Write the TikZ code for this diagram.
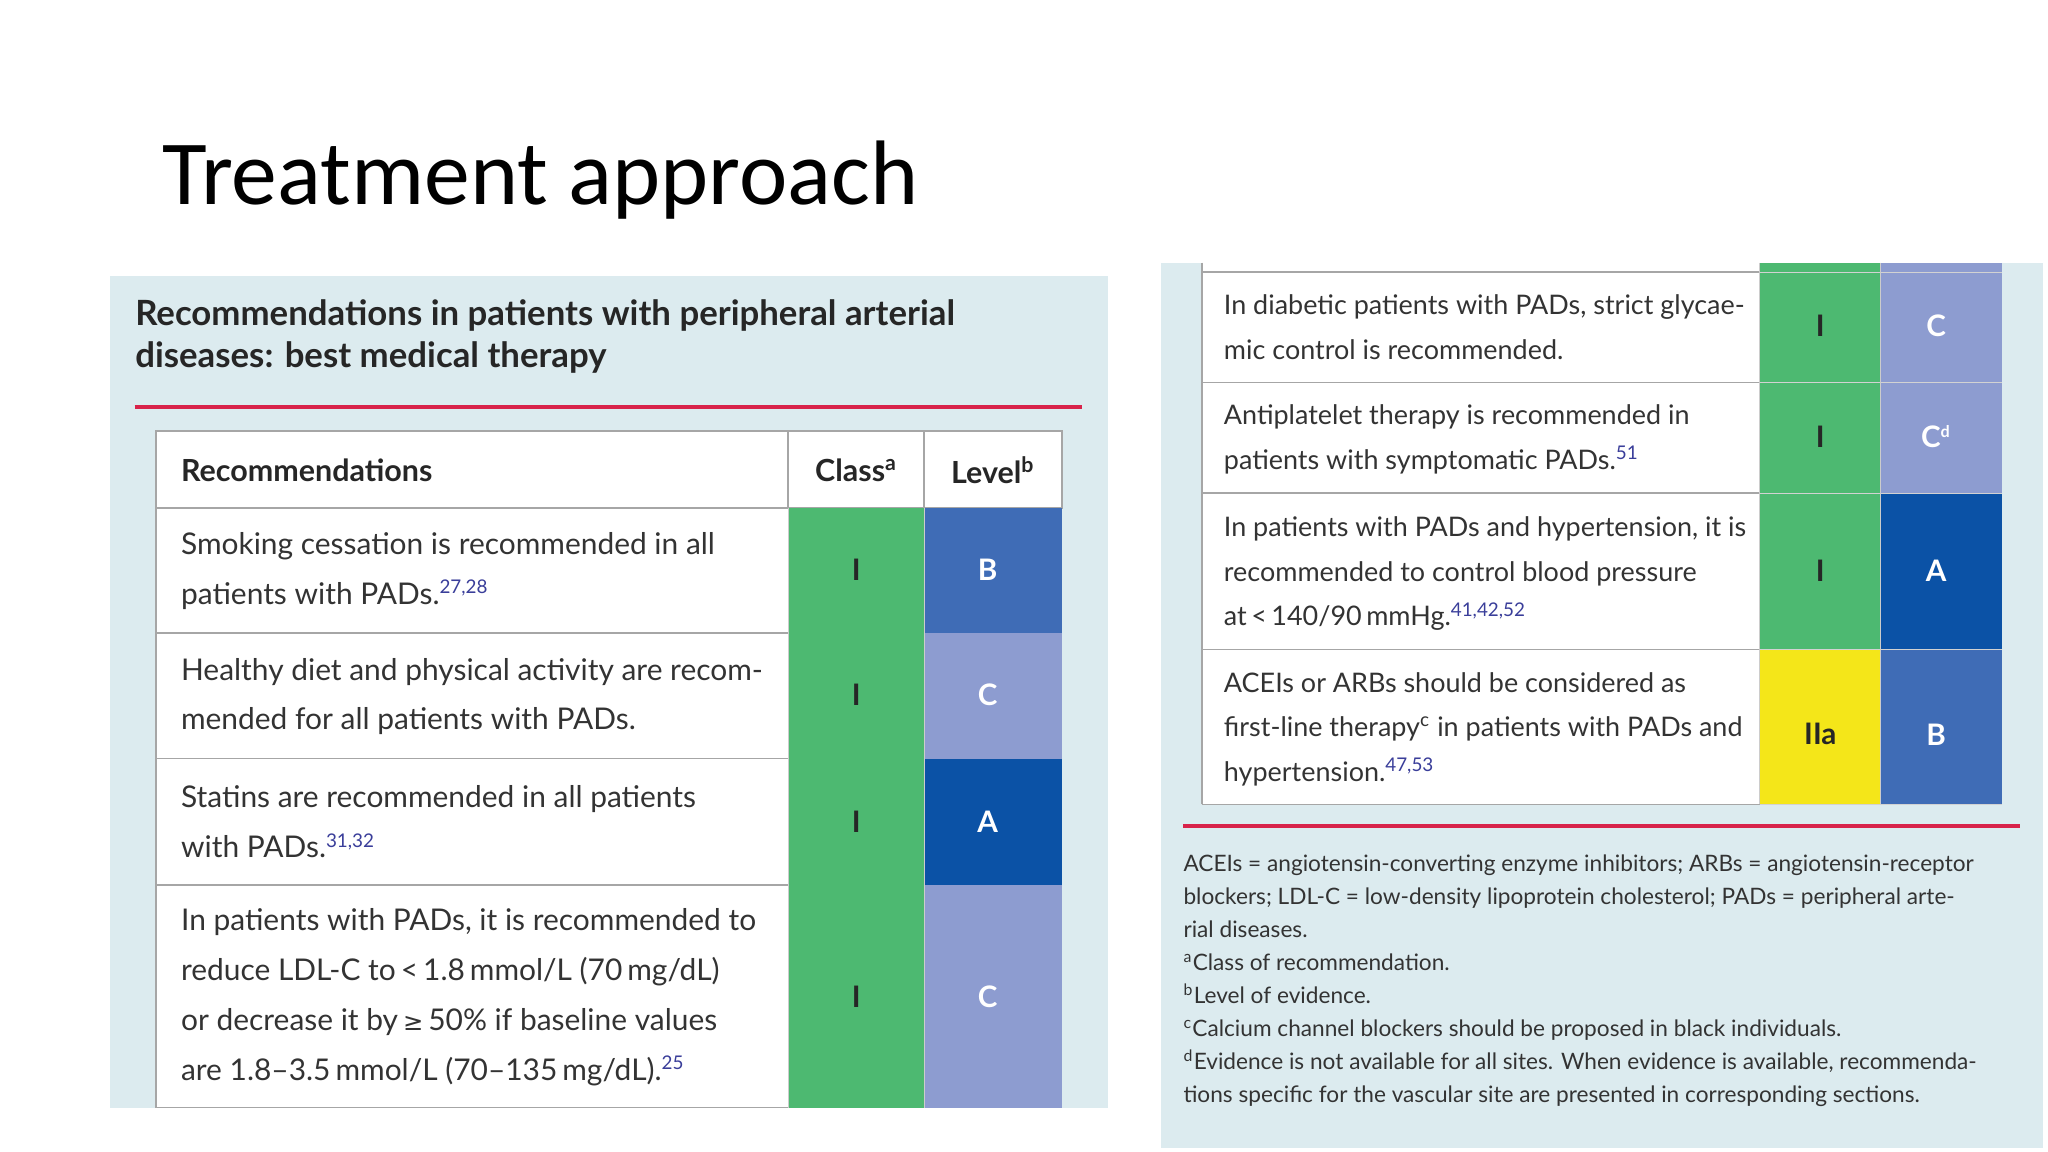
\documentclass[tikz,border=0pt]{standalone}
\usepackage{fontspec}
\setmainfont{Lato}
\newfontfamily\titlefont{Carlito}
\definecolor{bgb}{HTML}{DCEBEF}
\definecolor{cg}{HTML}{4DB971}
\definecolor{cc}{HTML}{8D9CD0}
\definecolor{cb}{HTML}{3F6CB6}
\definecolor{ca}{HTML}{0B52A6}
\definecolor{cy}{HTML}{F4E619}
\definecolor{cr}{HTML}{D8234A}
\definecolor{sref}{HTML}{3A3E9A}
\newcommand{\rf}[1]{\textsuperscript{\color{sref}\fontsize{7}{7}\selectfont #1}}
\begin{document}
\begin{tikzpicture}[x=0.5pt,y=-0.5pt,
  cell/.style={draw=gray!70,line width=0.6pt},
  lt/.style={anchor=west,align=left,font=\fontsize{11.1}{18.5}\selectfont,text=black!80,inner sep=0},
  rt/.style={anchor=west,align=left,font=\fontsize{10}{16.5}\selectfont,text=black!80,inner sep=0},
  lvlmark/.style={font=\bfseries\fontsize{11}{11}\selectfont,text=white},
  cls/.style={font=\bfseries\fontsize{11}{11}\selectfont,text=black!85}]
\useasboundingbox (0,0) rectangle (1520,855);
\node[anchor=base west,font=\titlefont\fontsize{34}{34}\selectfont,inner sep=0] (title) at (120,152) {Treatment approach};
% left panel
\fill[bgb] (82,205) rectangle (822,822);
\node[anchor=north west,align=left,font=\bfseries\fontsize{12.9}{15.5}\selectfont,text=black!85,inner sep=0] (lhead) at (100,222) {Recommendations in patients with peripheral arterial\\diseases: best medical therapy};
\draw[cr,line width=1.2pt] (100,302) -- (803,302);
\fill[white] (116,320) rectangle (788,822);
% header
\draw[cell] (116,320) rectangle (585,377);
\draw[cell] (585,320) rectangle (686,377);
\draw[cell] (686,320) rectangle (788,377);
\node[anchor=west,font=\bfseries\fontsize{11.3}{11}\selectfont,text=black!85,inner sep=0] (h1) at (134,349) {Recommendations};
\node[font=\bfseries\fontsize{11.3}{11}\selectfont,text=black!85] (h2) at (635.5,349) {Class\textsuperscript{a}};
\node[font=\bfseries\fontsize{11.3}{11}\selectfont,text=black!85] (h3) at (737,349) {Level\textsuperscript{b}};
% rows left
\foreach \ya/\yb/\lc [count=\i] in {377/470/cb,470/563/cc,563/657/ca,657/822/cc}{
  \fill[cg] (585,\ya) rectangle (686,\yb);
  \fill[\lc] (686,\ya) rectangle (788,\yb);
  \draw[gray!70,line width=0.6pt] (116,\yb) -- (585,\yb);
  \draw[gray!70,line width=0.6pt] (116,\ya) -- (116,\yb);
  \draw[gray!40,line width=0.4pt] (585,\ya) -- (585,\yb) (686,\ya) -- (686,\yb);
}
\fill[white] (100,822) rectangle (800,830);
\node[lt] (l1) at (134,424) {Smoking cessation is recommended in all\\patients with PADs.\rf{27,28}};
\node[lt] (l2) at (134,517) {Healthy diet and physical activity are recom-\\mended for all patients with PADs.};
\node[lt] (l3) at (134,610) {Statins are recommended in all patients\\with PADs.\rf{31,32}};
\node[lt] (l4) at (134,740) {In patients with PADs, it is recommended to\\reduce LDL-C to\,<\,1.8\,mmol/L (70\,mg/dL)\\or decrease it by\,{\fontspec{DejaVu Sans}\fontsize{9}{9}\selectfont≥}\,50\% if baseline values\\are 1.8–3.5\,mmol/L (70–135\,mg/dL).\rf{25}};
\node[cls] (c1) at (635.5,423) {I};
\node[cls] (c2) at (635.5,516) {I};
\node[cls] (c3) at (635.5,610) {I};
\node[cls] (c4) at (635.5,740) {I};
\node[lvlmark] (e1) at (733,423) {B};
\node[lvlmark] (e2) at (733,516) {C};
\node[lvlmark] (e3) at (733,610) {A};
\node[lvlmark] (e4) at (733,740) {C};
% right panel
\fill[bgb] (862,195) rectangle (1516,852);
\fill[white] (892,195) rectangle (1486,597);
\fill[cg] (1306,195) rectangle (1396,482);
\fill[cc] (1396,195) rectangle (1486,366);
\fill[ca] (1396,366) rectangle (1486,482);
\fill[cy] (1306,482) rectangle (1396,597);
\fill[cb] (1396,482) rectangle (1486,597);
\foreach \yy in {202,284,366,482,597}{\draw[gray!70,line width=0.6pt] (892,\yy) -- (1306,\yy);
  \draw[gray!35,line width=0.4pt] (1306,\yy) -- (1486,\yy);}
\draw[gray!70,line width=0.6pt] (892,195) -- (892,597);
\draw[gray!40,line width=0.4pt] (1306,195) -- (1306,597) (1396,195) -- (1396,597);
\node[rt] (r1) at (908,243) {In diabetic patients with PADs, strict glycae-\\mic control is recommended.};
\node[rt] (r2) at (908,326) {Antiplatelet therapy is recommended in\\patients with symptomatic PADs.\rf{51}};
\node[rt] (r3) at (908,426) {In patients with PADs and hypertension, it is\\recommended to control blood pressure\\at\,<\,140/90\,mmHg.\rf{41,42,52}};
\node[rt] (r4) at (908,541) {ACEIs or ARBs should be considered as\\first-line therapy\textsuperscript{c} in patients with PADs and\\hypertension.\rf{47,53}};
\node[cls] (rc1) at (1351,242) {I};
\node[cls] (rc2) at (1351,324) {I};
\node[cls] (rc3) at (1351,424) {I};
\node[cls] (rc4) at (1351,545) {IIa};
\node[lvlmark] (re1) at (1437,242) {C};
\node[lvlmark] (re2) at (1437,324) {C\textsuperscript{\fontsize{6}{6}\selectfont d}};
\node[lvlmark] (re3) at (1437,424) {A};
\node[lvlmark] (re4) at (1437,545) {B};
\draw[cr,line width=1.2pt] (878,613) -- (1499,613);
\node[anchor=north west,align=left,font=\fontsize{8.4}{12.25}\selectfont,text=black!80,inner sep=0] (foot) at (878,634) {ACEIs = angiotensin-converting enzyme inhibitors; ARBs = angiotensin-receptor\\blockers; LDL-C = low-density lipoprotein cholesterol; PADs = peripheral arte-\\rial diseases.\\\textsuperscript{a}Class of recommendation.\\\textsuperscript{b}Level of evidence.\\\textsuperscript{c}Calcium channel blockers should be proposed in black individuals.\\\textsuperscript{d}Evidence is not available for all sites. When evidence is available, recommenda-\\tions specific for the vascular site are presented in corresponding sections.};
\end{tikzpicture}
\end{document}
